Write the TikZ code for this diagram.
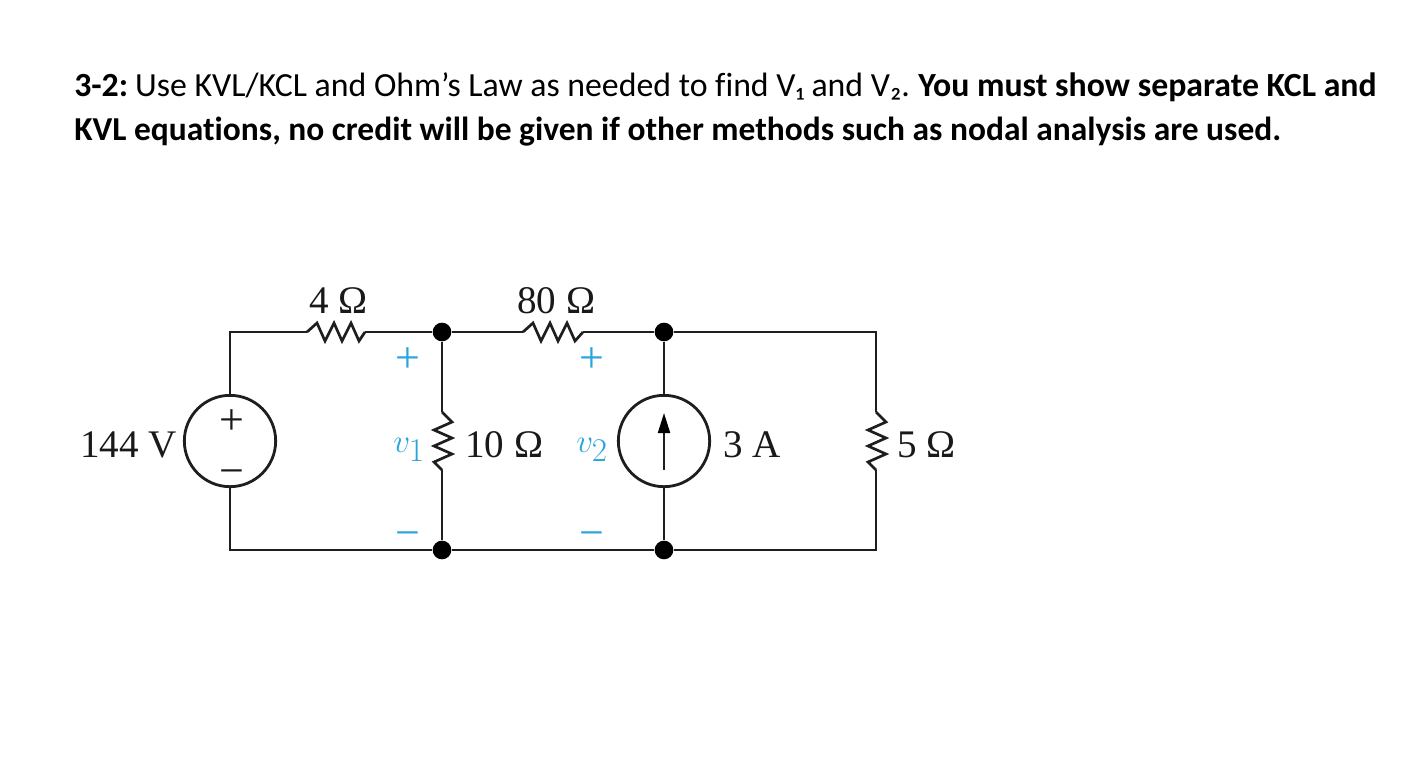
\documentclass[tikz,border=0pt]{standalone}
\usepackage{fontspec}
\setmainfont[Ligatures=NoCommon]{Carlito}
\newfontfamily\circfont{Liberation Serif}
\usetikzlibrary{arrows.meta}
\definecolor{cblue}{HTML}{2AA5DC}
\definecolor{wire}{HTML}{1E1E1E}
\tikzset{
  x=0.75pt,y=-0.75pt,
  wirestyle/.style={draw=wire,line width=1.6pt,line join=miter},
  resstyle/.style={draw=wire,line width=2pt,line join=miter},
  hres/.style={to path={-- ++(10,-9) -- ++(8,18) -- ++(9,-18) -- ++(8,18) -- ++(9,-18) -- ++(8,18) -- (\tikztotarget)}},
  vres/.style={to path={-- ++(10,10) -- ++(-18,8) -- ++(18,8) -- ++(-18,8) -- ++(18,8) -- ++(-18,8) -- (\tikztotarget)}},
  junction/.style={circle,fill=black,draw=none,minimum size=14pt,inner sep=0pt},
  source/.style={circle,draw=wire,line width=2.1pt,fill=white,minimum size=68.5pt,inner sep=0pt},
  prob/.style={font=\fontsize{25.1pt}{33pt}\selectfont,anchor=base west,inner sep=0pt},
  probhead/.style={font=\fontsize{25.35pt}{33pt}\selectfont,anchor=base west,inner sep=0pt},
  probtail/.style={font=\bfseries\fontsize{25.35pt}{33pt}\selectfont,anchor=base west,inner sep=0pt},
  val/.style={font=\circfont\fontsize{29.3pt}{32pt}\selectfont,text=black!90,anchor=base west,inner sep=0pt},
  sign/.style={font=\circfont\fontsize{33pt}{36pt}\selectfont,inner sep=0pt,text=cblue},
  srcsign/.style={font=\circfont\fontsize{33pt}{36pt}\selectfont,inner sep=0pt,text=black!90},
  volt/.style={text=cblue,anchor=base west,inner sep=0pt,font=\fontsize{33pt}{36pt}\selectfont},
}
\begin{document}
\begin{tikzpicture}
\useasboundingbox[fill=white] (0,0) rectangle (1416,758);
\node[probhead] (l1) at (74,96) {\textbf{3-2:}\kern-2.4pt{} Use KVL/KCL and Ohm’s Law as needed to find V₁ and V₂.};
\node[probtail] (l1b) at (918,96) {You must show separate KCL and};
\node[prob] (l2) at (74,140) {\textbf{KVL equations, no credit will be given if other methods such as nodal analysis are used.}};

\coordinate (tl) at (230,332);
\coordinate (bl) at (230,550);
\coordinate (tr) at (876,332);
\coordinate (br) at (876,550);
\node[junction] (a) at (442,332) {};
\node[junction] (b) at (664,332) {};
\node[junction] (c) at (442,550) {};
\node[junction] (d) at (664,550) {};
\node[source] (vs) at (230,441) {};
\node[source] (is) at (664,441) {};
\coordinate (r4a) at (307,332);
\coordinate (r4b) at (365,332);
\coordinate (r80a) at (523,332);
\coordinate (r80b) at (583,332);
\coordinate (r10a) at (442,412);
\coordinate (r10b) at (442,470);
\coordinate (r5a) at (876,412);
\coordinate (r5b) at (876,470);

\draw[wirestyle] (vs.north) -- (tl) -- (r4a);
\draw[resstyle] (r4a) to[hres] (r4b);
\draw[wirestyle] (r4b) -- (a) -- (r80a);
\draw[resstyle] (r80a) to[hres] (r80b);
\draw[wirestyle] (r80b) -- (b) -- (tr) -- (r5a);
\draw[resstyle] (r5a) to[vres] (r5b);
\draw[wirestyle] (r5b) -- (br) -- (d);
\draw[wirestyle] (a) -- (r10a);
\draw[resstyle] (r10a) to[vres] (r10b);
\draw[wirestyle] (r10b) -- (c);
\draw[wirestyle] (vs.south) -- (bl) -- (c) -- (d);
\draw[wirestyle] (b) -- (is.north);
\draw[wirestyle] (is.south) -- (d);

\coordinate (arrlow) at (664,470);
\coordinate (arrhigh) at (664,413);
\draw[draw=wire,line width=1.5pt,-{Triangle[length=15pt,width=9pt,color=black]}] (arrlow) -- (arrhigh);

\node[srcsign] (vp) at (232,422) {+};
\node[srcsign] (vm) at (232,478) {−};

\node[val] (lv) at (80,457) {144 V};
\node[val] (l4) at (309,313) {4 Ω};
\node[val] (l80) at (517,313) {80 Ω};
\node[val] (l10) at (465,457) {10 Ω};
\node[val] (l3) at (723,457) {3 A};
\node[val] (l5) at (897,457) {5 Ω};

\node[sign] (p1) at (408,360) {+};
\node[sign] (m1) at (408,540) {−};
\node[sign] (p2) at (592,360) {+};
\node[sign] (m2) at (592,540) {−};
\node[volt] (v1) at (393,452) {$v_1$};
\node[volt] (v2) at (576,452) {$v_2$};
\end{tikzpicture}
\end{document}
